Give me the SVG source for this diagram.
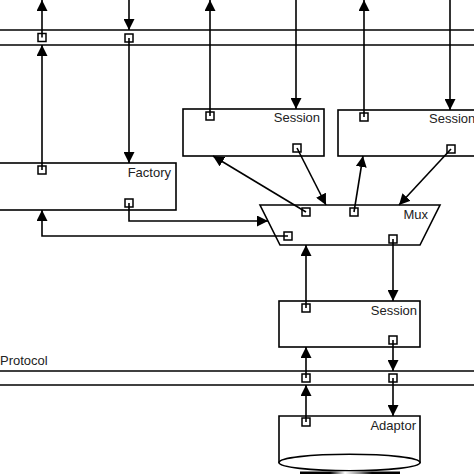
<svg xmlns="http://www.w3.org/2000/svg" width="474" height="474" viewBox="0 0 474 474">
<style>
.ln{stroke:#000;stroke-width:1.6;fill:none}
.bx{stroke:#000;stroke-width:1.6;fill:#fff}
.pt{stroke:#000;stroke-width:1.5;fill:none}
.tx{font-family:"Liberation Sans",Arial,sans-serif;font-size:13px;fill:#222}
.ar{marker-end:url(#ah)}
</style>
<defs>
<marker id="ah" markerUnits="userSpaceOnUse" markerWidth="11" markerHeight="11" viewBox="0 0 11 11" refX="11" refY="5.5" orient="auto">
<path d="M0,0 L11,5.5 L0,11 z" fill="#000"/>
</marker>
<linearGradient id="sh" x1="0" y1="0" x2="1" y2="0">
<stop offset="0" stop-color="#000"/>
<stop offset="0.3" stop-color="#000"/>
<stop offset="0.45" stop-color="#fff"/>
<stop offset="0.6" stop-color="#888"/>
<stop offset="0.72" stop-color="#000"/>
<stop offset="1" stop-color="#000"/>
</linearGradient>
</defs>
<rect width="474" height="474" fill="#fff"/>
<g id="bus-top">
<line class="ln" x1="0" y1="30" x2="474" y2="30"/>
<line class="ln" x1="0" y1="45" x2="474" y2="45"/>
</g>
<g id="bus-protocol">
<line class="ln" x1="0" y1="371" x2="474" y2="371"/>
<line class="ln" x1="0" y1="385" x2="474" y2="385"/>
<text class="tx" x="0" y="365">Protocol</text>
</g>
<g id="factory">
<rect class="bx" x="-3" y="163" width="179" height="47"/>
<text class="tx" x="171" y="177" text-anchor="end">Factory</text>
</g>
<g id="session1">
<rect class="bx" x="183" y="109" width="141" height="47"/>
<text class="tx" x="320" y="122" text-anchor="end">Session</text>
</g>
<g id="session2">
<rect class="bx" x="338" y="110" width="145" height="46"/>
<text class="tx" x="429" y="123">Session</text>
</g>
<g id="mux">
<path class="bx" d="M260,205 L440,205 L420,245 L280,245 z"/>
<text class="tx" x="428" y="219" text-anchor="end">Mux</text>
</g>
<g id="session3">
<rect class="bx" x="279" y="301" width="141" height="46"/>
<text class="tx" x="417" y="315" text-anchor="end">Session</text>
</g>
<g id="adaptor">
<path class="bx" d="M279,416 L420,416 L420,462.5 L279,462.5 z"/>
<ellipse class="bx" cx="349.5" cy="462.5" rx="70.5" ry="8.3"/>
<rect x="300" y="471.5" width="100" height="2.5" fill="url(#sh)"/>
<text class="tx" x="416" y="430" text-anchor="end">Adaptor</text>
</g>
<g id="connectors">
<line class="ln ar" x1="42" y1="37.5" x2="42" y2="0"/>
<line class="ln ar" x1="42" y1="170" x2="42" y2="45"/>
<line class="ln ar" x1="129" y1="0" x2="129" y2="30"/>
<line class="ln ar" x1="129" y1="38" x2="129" y2="163"/>
<line class="ln ar" x1="210" y1="116" x2="210" y2="0"/>
<line class="ln ar" x1="296" y1="0" x2="296" y2="109"/>
<line class="ln ar" x1="364" y1="117" x2="364" y2="0"/>
<line class="ln ar" x1="450" y1="0" x2="450" y2="110"/>
<line class="ln ar" x1="297" y1="148" x2="326" y2="205"/>
<line class="ln ar" x1="451" y1="149" x2="399" y2="205"/>
<line class="ln ar" x1="354" y1="212" x2="363" y2="156"/>
<line class="ln ar" x1="306" y1="212" x2="213" y2="156"/>
<polyline class="ln ar" points="129,203 129,221 268,221"/>
<polyline class="ln ar" points="288,236 42,236 42,210"/>
<line class="ln ar" x1="306" y1="308" x2="306" y2="245"/>
<line class="ln ar" x1="393" y1="239" x2="393" y2="301"/>
<line class="ln ar" x1="306" y1="378" x2="306" y2="347"/>
<line class="ln ar" x1="306" y1="422" x2="306" y2="385"/>
<line class="ln ar" x1="393" y1="340" x2="393" y2="371"/>
<line class="ln ar" x1="393" y1="378" x2="393" y2="416"/>
</g>
<g id="ports">
<rect class="pt" x="38" y="33.5" width="8" height="8"/>
<rect class="pt" x="125" y="34" width="8" height="8"/>
<rect class="pt" x="206" y="112" width="8" height="8"/>
<rect class="pt" x="293" y="144" width="8" height="8"/>
<rect class="pt" x="360" y="113" width="8" height="8"/>
<rect class="pt" x="447" y="145" width="8" height="8"/>
<rect class="pt" x="38" y="166" width="8" height="8"/>
<rect class="pt" x="125" y="199" width="8" height="8"/>
<rect class="pt" x="302" y="208" width="8" height="8"/>
<rect class="pt" x="350" y="208" width="8" height="8"/>
<rect class="pt" x="284" y="232" width="8" height="8"/>
<rect class="pt" x="389" y="235" width="8" height="8"/>
<rect class="pt" x="302" y="304" width="8" height="8"/>
<rect class="pt" x="389" y="336" width="8" height="8"/>
<rect class="pt" x="302" y="374" width="8" height="8"/>
<rect class="pt" x="389" y="374" width="8" height="8"/>
<rect class="pt" x="302" y="418" width="8" height="8"/>
</g>
</svg>
